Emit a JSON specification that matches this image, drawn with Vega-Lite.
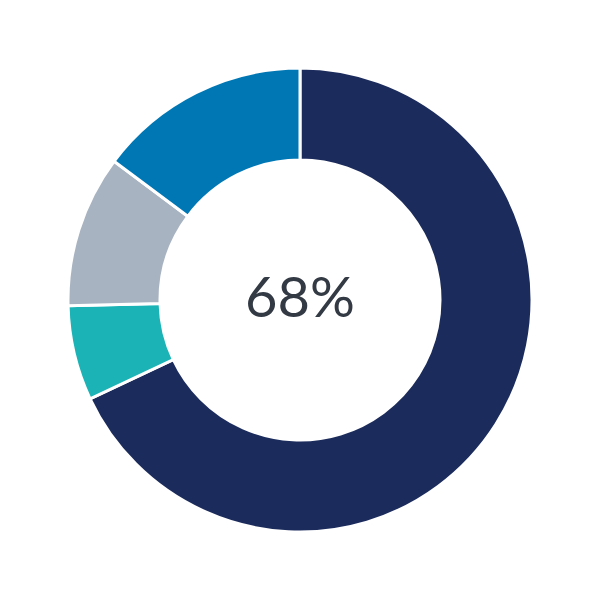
{
  "$schema": "https://vega.github.io/schema/vega-lite/v6.json",
  "description": "Donut chart with the main share in the centre.",
  "autosize": {"type": "fit", "contains": "padding"},
  "width": 600,
  "height": 600,
  "padding": 0,
  "background": "white",
  "view": {"stroke": null},
  "data": {
    "values": [
      {"segment": "A", "order": 1, "value": 68, "label": "68%"},
      {"segment": "B", "order": 2, "value": 6.6, "label": "7%"},
      {"segment": "C", "order": 3, "value": 10.6, "label": "11%"},
      {"segment": "D", "order": 4, "value": 14.8, "label": "15%"}
    ]
  },
  "layer": [
    {
      "mark": {"type": "arc", "innerRadius": 140, "outerRadius": 232, "stroke": "#ffffff", "strokeWidth": 3},
      "encoding": {
        "theta": {"field": "value", "type": "quantitative", "stack": true},
        "order": {"field": "order", "type": "quantitative"},
        "color": {
          "field": "segment",
          "type": "nominal",
          "scale": {"domain": ["A", "B", "C", "D"], "range": ["#1b2b5c", "#1bb3b6", "#a8b3c1", "#0077b5"]},
          "legend": null
        }
      }
    },
    {
      "transform": [{"filter": "datum.order == 1"}],
      "mark": {"type": "text", "font": "Lato", "fontWeight": 400, "fontSize": 56, "color": "#333a44", "align": "center", "baseline": "middle"},
      "encoding": {
        "text": {"field": "label", "type": "nominal"}
      }
    }
  ]
}
